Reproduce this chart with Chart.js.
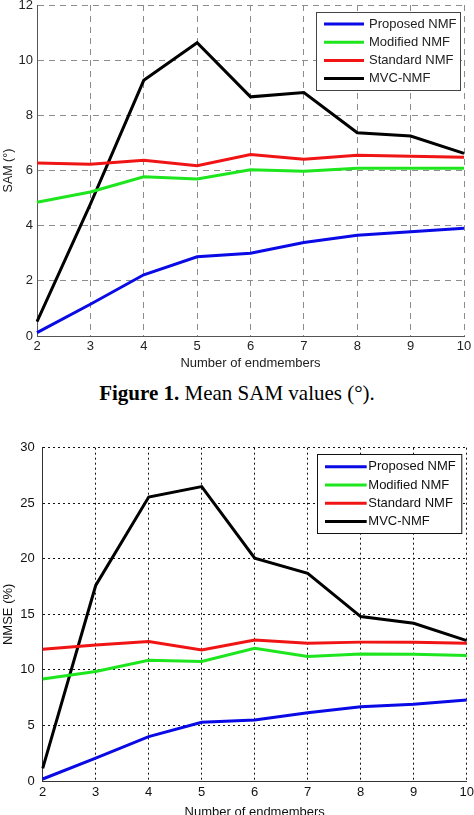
<!DOCTYPE html>
<html>
<head>
<meta charset="utf-8">
<script src="https://cdn.jsdelivr.net/npm/chart.js@4"></script>
<style>
html, body { margin: 0; padding: 0; background: #fff; overflow: hidden; }
body { width: 474px; height: 815px; position: relative; }
#sam-wrap { position: absolute; left: 0; top: 0; width: 474px; height: 371px; }
#nmse-wrap { position: absolute; left: 0; top: 420px; width: 474px; height: 400px; }
#caption {
    position: absolute; left: 0; top: 380px; width: 474px;
    text-align: center; color: #000;
    font-family: "Liberation Serif", "Times New Roman", serif;
    font-size: 21px; line-height: 26px;
}
</style>
</head>
<body>
<div id="sam-wrap"><canvas id="sam-chart"></canvas></div>
<div id="caption"><b>Figure 1.</b> Mean SAM values (°).</div>
<div id="nmse-wrap"><canvas id="nmse-chart"></canvas></div>
<script>
const endmembers = [2, 3, 4, 5, 6, 7, 8, 9, 10];
const seriesNames = ["Proposed NMF", "Modified NMF", "Standard NMF", "MVC-NMF"];
const seriesColors = ["#0a0ae6", "#1ee61e", "#f01414", "#000000"];

const samProposed = [0.12, 1.15, 2.22, 2.87, 3.0, 3.39, 3.65, 3.78, 3.91];
const samModified = [4.85, 5.22, 5.77, 5.69, 6.03, 5.97, 6.08, 6.08, 6.08];
const samStandard = [6.27, 6.23, 6.37, 6.17, 6.58, 6.41, 6.55, 6.52, 6.48];
const samMvc = [0.52, 4.78, 9.27, 10.63, 8.67, 8.83, 7.37, 7.25, 6.62];
const samTicks = [0, 2, 4, 6, 8, 10, 12];

const nmseProposed = [0.18, 2.05, 3.99, 5.29, 5.5, 6.15, 6.69, 6.91, 7.3];
const nmseModified = [9.19, 9.85, 10.87, 10.75, 11.95, 11.2, 11.44, 11.41, 11.29];
const nmseStandard = [11.86, 12.25, 12.55, 11.8, 12.7, 12.4, 12.5, 12.5, 12.4];
const nmseMvc = [1.14, 17.6, 25.56, 26.5, 20.06, 18.7, 14.8, 14.2, 12.64];
const nmseTicks = [0, 5, 10, 15, 20, 25, 30];

// legend box drawn inside the plot area, top right
const insideLegend = {
    id: "insideLegend",
    afterDraw(chart, args, o) {
        const {ctx, chartArea} = chart;
        const x = chartArea.right - o.right - o.width;
        const y = chartArea.top + o.top;
        ctx.save();
        ctx.fillStyle = "#fff";
        ctx.fillRect(x, y, o.width, o.height);
        ctx.strokeStyle = o.borderColor;
        ctx.lineWidth = 1;
        ctx.strokeRect(Math.round(x) + 0.5, Math.round(y) + 0.5, o.width, o.height);
        ctx.font = o.font;
        ctx.textBaseline = "middle";
        chart.data.datasets.forEach((ds, i) => {
            const cy = y + o.firstRow + i * o.rowGap;
            ctx.strokeStyle = ds.borderColor;
            ctx.lineWidth = ds.borderWidth;
            ctx.beginPath();
            ctx.moveTo(x + o.lineStart, cy);
            ctx.lineTo(x + o.lineEnd, cy);
            ctx.stroke();
            ctx.fillStyle = o.textColor;
            ctx.fillText(ds.label, x + o.textStart, cy);
        });
        ctx.restore();
    }
};

function makeDatasets(values, width) {
    return values.map((v, i) => ({
        label: seriesNames[i],
        data: v,
        borderColor: seriesColors[i],
        backgroundColor: seriesColors[i],
        borderWidth: width,
        pointRadius: 0,
        tension: 0,
        fill: false
    }));
}

function buildChart(canvasId, s) {
    return new Chart(document.getElementById(canvasId), {
        type: "line",
        data: {labels: endmembers, datasets: makeDatasets(s.values, s.lineWidth)},
        plugins: [insideLegend],
        options: {
            responsive: true,
            maintainAspectRatio: false,
            animation: false,
            layout: {padding: s.padding},
            plugins: {
                legend: {display: false},
                tooltip: {enabled: false},
                insideLegend: s.legend
            },
            scales: {
                x: {
                    type: "category",
                    offset: false,
                    grid: {color: s.gridColor, lineWidth: 1, drawTicks: false},
                    border: {display: true, color: s.axisColor, width: 1, dash: s.dash},
                    ticks: {color: s.textColor, font: {family: "Liberation Sans", size: 13}, padding: s.xTickPad, maxRotation: 0, autoSkip: false},
                    title: {display: true, text: "Number of endmembers", color: s.textColor,
                        font: {family: "Liberation Sans", size: 13}, padding: {top: 0, bottom: 0}},
                    afterFit: sc => { sc.height = s.xHeight; sc.paddingLeft = 0; sc.paddingRight = 0; }
                },
                y: {
                    min: s.ticks[0],
                    max: s.ticks[s.ticks.length - 1],
                    afterBuildTicks: sc => { sc.ticks = s.ticks.map(v => ({value: v})); },
                    grid: {color: s.gridColor, lineWidth: 1, drawTicks: false},
                    border: {display: true, color: s.axisColor, width: 1, dash: s.dash},
                    ticks: {color: s.textColor, font: {family: "Liberation Sans", size: 13}, padding: s.yTickPad},
                    title: {display: true, text: s.yTitle, color: s.textColor,
                        font: {family: "Liberation Sans", size: s.yTitleSize}, padding: {top: 1, bottom: 0}},
                    afterFit: sc => { sc.width = s.yWidth; sc.paddingTop = 0; sc.paddingBottom = 0; }
                }
            }
        }
    });
}

buildChart("sam-chart", {
    values: [samProposed, samModified, samStandard, samMvc],
    lineWidth: 3,
    ticks: samTicks,
    yTitle: "SAM (°)",
    yTitleSize: 12.5,
    padding: {top: 5, right: 10, left: 0, bottom: 0},
    xHeight: 35,
    yWidth: 37,
    xTickPad: 3,
    yTickPad: 4,
    gridColor: "#8c8c8c",
    axisColor: "#555",
    textColor: "#222",
    dash: [6, 5],
    legend: {
        right: 4, top: 7, width: 144, height: 78,
        firstRow: 12, rowGap: 18.2, lineStart: 8, lineEnd: 48, textStart: 53,
        font: "13px 'Liberation Sans'", borderColor: "#444", textColor: "#222"
    }
});

buildChart("nmse-chart", {
    values: [nmseProposed, nmseModified, nmseStandard, nmseMvc],
    lineWidth: 3,
    ticks: nmseTicks,
    yTitle: "NMSE (%)",
    yTitleSize: 13,
    padding: {top: 27.7, right: 7.3, left: 0, bottom: 0},
    xHeight: 39,
    yWidth: 42.7,
    xTickPad: 4,
    yTickPad: 8,
    gridColor: "#111",
    axisColor: "#333",
    textColor: "#111",
    dash: [2, 3],
    legend: {
        right: 5.7, top: 6.6, width: 144.3, height: 79,
        firstRow: 12.4, rowGap: 18.3, lineStart: 8.3, lineEnd: 50, textStart: 51.6,
        font: "13px 'Liberation Sans'", borderColor: "#111", textColor: "#111"
    }
});
</script>
</body>
</html>
